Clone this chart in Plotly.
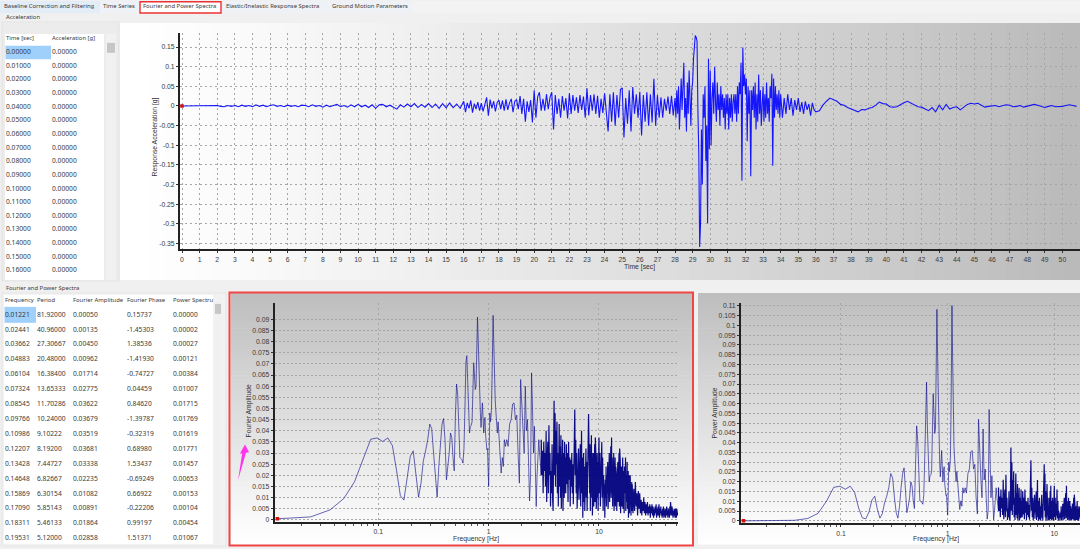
import numpy as np
import plotly.graph_objects as go

W, H = 1080, 549

# ---------- table and tab text ----------
TABS = ["Baseline Correction and Filtering", "Time Series", "Fourier and Power Spectra",
        "Elastic/Inelastic Response Spectra", "Ground Motion Parameters"]
TIME_HEAD = ["Time [sec]", "Acceleration [g]"]
TIME_COL = ["0.00000", "0.01000", "0.02000", "0.03000", "0.04000", "0.05000", "0.06000", "0.07000", "0.08000",
            "0.09000", "0.10000", "0.11000", "0.12000", "0.13000", "0.14000", "0.15000", "0.16000"]
SPEC_HEAD = ["Frequency", "Period", "Fourier Amplitude", "Fourier Phase", "Power Spectru"]
SPEC_FREQ = ["0.01221", "0.02441", "0.03662", "0.04883", "0.06104", "0.07324", "0.08545", "0.09766", "0.10986",
             "0.12207", "0.13428", "0.14648", "0.15869", "0.17090", "0.18311", "0.19531"]
SPEC_PERIOD = ["81.92000", "40.96000", "27.30667", "20.48000", "16.38400", "13.65333", "11.70286", "10.24000",
               "9.10222", "8.19200", "7.44727", "6.82667", "6.30154", "5.85143", "5.46133", "5.12000"]
SPEC_AMP = ["0.00050", "0.00135", "0.00450", "0.00962", "0.01714", "0.02775", "0.03622", "0.03679", "0.03519",
            "0.03681", "0.03338", "0.02235", "0.01082", "0.00891", "0.01864", "0.02858"]
SPEC_PHASE = ["0.15737", "-1.45303", "1.38536", "-1.41930", "-0.74727", "0.04459", "0.84620", "-1.39787",
              "-0.32319", "0.68980", "1.53437", "-0.69249", "0.66922", "-0.22206", "0.99197", "1.51371"]
SPEC_POWER = ["0.00000", "0.00002", "0.00027", "0.00121", "0.00384", "0.01007", "0.01715", "0.01769", "0.01619",
              "0.01771", "0.01457", "0.00653", "0.00153", "0.00104", "0.00454", "0.01067"]

# ---------- acceleration [g], read block by block ----------
ACC_0_2 = [0, 0, 0]
ACC_2_16 = [.001, -.001, -.002, .001, -.001, .001, -.002, .002, -.001, .001, -.002, .003, -.001, .002, -.002, .001,
            .003, -.001, .001, -.002, .002, -.001, .001, -.002, .002, .001, -.002, .003, -.001, .001, -.003, .002,
            -.002, .001, .004, -.002, .001, -.003, .003, -.002, .004, -.002, .002, -.004, .003, -.006, .003, .004,
            -.002, .002, -.004, -.008, .003, -.003, .005, -.002, .006, -.004, .004, -.003, .006, -.004, .005, -.006,
            .006, -.005, .008, -.004, .005, -.006]
ACC_16_20 = [.012, -.016, .008, -.006, .014, -.017, .006, -.008, .01, -.012, .007, -.014, .004, .022, -.025, .016,
             -.006, .012, -.014, .009, .015, -.008, .014, -.012, .017, -.01, .008, .018, -.016, .012, .016, -.008,
             .025, -.02, .018, -.04, .012, -.015, .015, -.042]
ACC_20_24 = [.04, -.03, .024, .035, -.012, .018, -.012, .03, -.008, .022, .035, -.06, .028, -.02, .018, -.03, .025,
             -.012, .02, -.032, .032, -.02, .028, -.012, .022, -.018, .028, -.01, .024, -.03, .045, -.024, .028,
             -.012, .03, -.02, .026, -.03, .018, -.018]
ACC_24_28 = [.032, -.028, -.065, .03, -.04, .035, -.05, .028, -.03, .042, .046, -.08, .02, -.045, .04, -.065, .048,
             -.02, .03, -.03, .036, -.075, .028, -.04, .035, -.05, .03, -.042, .069, -.05, .028, -.03, .022, -.03,
             .018, -.012, .024, -.02, .026, -.024]
ACC_28_34 = [.02, -.03, .04, -.02, .05, -.06, .03, .07, -.01, .05,
             .11, -.03, .02, -.065, .06, -.02, .09, .02, -.05, .04,
             .06, .12, .17, .179, .175, .165, -.01, -.12, -.359, -.3,
             -.06, -.2, .03, -.03, .05, -.14, -.05, -.299, .12, -.11,
             .09, -.1, .02, .06, -.02, .10, .01, -.04, .06, -.01,
             .03, -.05, .05, -.01, .03, -.03, .02, -.06, .03, -.02,
             .03, -.06, .02, -.03, .03, -.04, .01, .03, -.02, .03,
             -.04, .05, -.02, .06, .03, .11, -.19, .149, .05, .08,
             .03, .07, -.09, .05, -.02, .04, -.179, .04, -.01, .05,
             -.03, .06, -.06, .03, -.04, .08, -.02, .04, -.05, .03,
             .05, -.04, .03, -.03, .06, -.02, .02, -.04, .05, .02,
             .082, -.152, .07, -.03, .05, -.01, .03, -.02, .04, -.03]
ACC_34_36 = [.03, -.03, .02, -.02, .03, -.01, .02, -.025, .015, -.01, .02, -.015, .01, -.02, .012, -.01, .005, -.025,
             .008, -.01]
ACC_36_51 = [-.015, -.012, .002, .012, .02, .016, .012, .004, .002, -.004, -.008, -.013, -.015, -.009, -.01, -.006,
             -.004, .002, .01, .006, .005, -.002, -.003, -.002, .004, .008, .012, .007, .004, -.002, -.003, -.007,
             -.012, -.004, -.015, .002, -.01, .004, -.008, -.004, -.002, -.01, -.002, .004, .007, .005, .007, .003,
             -.003, -.001, .0, .001, -.002, 0, .003, .002, -.002, -.001, .001, -.003, -.001, .002, .004, .002, -.002,
             -.004, -.001, .001, -.002, -.002, -.001, .001, .003, .001, -.001]

# ---------- spectrum frequency [Hz] below 3 Hz ----------
F_LOW = [.0122, .0244, .0366, .0488, .0610, .0732, .0855, .0977, .1099, .1221, .1343, .1465, .1587, .1709, .1831,
         .1953, .2075, .2197, .2319, .2441, .2563, .2686, .2808, .2930, .3052, .3174, .3296, .3418, .3540, .3662,
         .3784, .3906, .4028, .4150, .4272, .4395, .4517, .4639, .4761, .4883, .5005, .5127, .5249, .5371, .5493,
         .5615, .5737, .5859, .5981, .6104, .6226, .6348, .6470, .6592, .6714, .6836, .6958, .7080, .7202, .7324,
         .7446, .7568, .7690, .7812, .7935, .8057, .8179, .8301, .8423, .8545, .8667, .8789, .8911, .9033, .9155,
         .9277, .9399, .9521, .9644, .9766, .9888, 1.001, 1.0132, 1.0254, 1.0376, 1.0498, 1.062, 1.0742, 1.0864,
         1.0986, 1.1108, 1.123, 1.1352, 1.1474, 1.1597, 1.2, 1.22, 1.25, 1.28, 1.30, 1.33, 1.36, 1.39, 1.42, 1.46,
         1.5, 1.55, 1.6, 1.65, 1.7, 1.75, 1.8, 1.85, 1.9, 1.95, 2.0, 2.05, 2.1, 2.15, 2.2, 2.25, 2.3, 2.35, 2.4,
         2.45, 2.5, 2.55, 2.6, 2.65, 2.7, 2.75, 2.85, 2.9, 3.0]
FOURIER_LOW = [.0005, .00135, .0045, .00962, .01714, .02775, .03622, .03679, .03519, .03681, .03338, .02235, .01082,
               .00891, .01864, .02858, .031, .021, .0102, .0165, .0265, .031, .036, .043, .041, .03, .018, .0102, .024,
               .036, .043, .0455, .036, .018, .024, .03, .039, .037, .028, .022, .047, .061, .056, .041, .028, .0275,
               .027, .0255, .032, .05, .0705, .0737, .06, .048, .039, .042, .0425, .044, .06, .0705, .065, .0585, .06,
               .0865, .091, .08, .066, .056, .048, .0415, .048, .0525, .046, .039, .044, .046, .038, .032, .0315, .032,
               .024, .015, .032, .048, .044, .046, .05, .063, .08, .0918, .082, .066, .055, .054, .05, .039, .044,
               .036, .027, .021, .028, .024, .036, .033, .036, .033, .043, .045, .052, .0525, .045, .047, .03, .0165,
               .063, .05, .04, .03, .06, .04, .045, .03, .0085, .02, .066, .05, .03, .042, .0275, .006, .02, .036,
               .03, .02]
POWER_LOW = [0, .00002, .00027, .00121, .00384, .01007, .01715, .01769, .01619, .01771, .01457, .00653, .00153, .00104,
             .00454, .01067, .0126, .0058, .0014, .0036, .0092, .0126, .0169, .0242, .022, .0118, .0042, .0014, .0075,
             .0169, .0242, .0271, .0169, .0042, .0075, .0118, .0199, .0179, .0102, .0063, .0289, .0486, .041, .022,
             .0102, .0099, .0095, .0085, .0134, .0327, .065, .071, .047, .0301, .0199, .0231, .0236, .0253, .047, .065,
             .0552, .0447, .047, .0978, .1082, .0836, .0569, .041, .0301, .0225, .0301, .036, .0277, .0199, .0253,
             .0277, .0189, .0134, .013, .0134, .0075, .0029, .0134, .0301, .0253, .0277, .0327, .0519, .0836, .1101,
             .0879, .0569, .0395, .0381, .0327, .02, .0253, .0169, .0095, .0058, .0102, .0075, .0169, .0142, .0169,
             .0142, .0242, .0265, .0353, .036, .0265, .0289, .0118, .0035, .052, .0327, .0209, .0118, .047, .0209,
             .0265, .0118, .0009, .0052, .057, .0327, .0118, .0231, .0099, .0005, .0052, .0169, .0118, .0052]

# ---------- Fourier amplitude above 3 Hz, read band by band ----------
FOURIER_3_5 = [.036, .02, .031, .012, .035, .022, .03, .015, .04, .008, .028, .035, .012, .0425, .02, .03, .006, .022,
               .012, .034, .01, .004, .03, .0535, .02, .048, .015, .04, .025, .044, .012, .03, .006, .025, .043, .015,
               .033, .01, .038, .005, .028, .018, .036, .004, .022, .03, .01, .035, .012, .028]
FOURIER_5_10 = [.012, .034, .016, .03, .008, .035, .018, .028, .006, .027, .015, .03, .012, .025, .007, .024, .038,
                .0495, .02, .036, .012, .03, .005, .022, .014, .032, .009, .026, .018, .034, .006, .02, .04, .012, .028,
                .001, .018, .03, .008, .024, .004, .02, .014, .032, .01, .026, .004, .03, .015, .036, .0475, .02, .043,
                .012, .034, .004, .028, .016, .038, .01, .03, .002, .024, .014, .03, .006, .026, .012, .034, .008, .037,
                .016, .028, .005, .022, .012, .03, .01, .026, .004, .018, .032]
FOURIER_10_20 = [.037, .012, .03, .006, .026, .014, .035, .01, .028, .004, .02, .012, .016, .001, .018, .01, .024,
                 .006, .02, .012, .026, .005, .022, .01, .03, .008, .024, .014, .033, .01, .037, .012, .028, .006,
                 .024, .014, .03, .004, .02, .01, .028, .006, .024, .012, .02, .004, .018, .01, .026, .008, .022, .012,
                 .03, .006, .032, .014, .026, .003, .02, .01, .024, .006, .022, .012, .028, .005, .02, .01, .022, .003,
                 .024, .009, .02, .012, .028, .004, .02, .008, .024, .012, .026, .005, .018, .01, .022, .001, .016,
                 .008, .02, .003, .018, .006, .02, .008, .016, .002, .014, .006, .017, .004]
FOURIER_20_52 = [.016, .003, .014, .004, .017, .006, .012, .002, .013, .005, .012, .003, .009, .002, .008, .004, .01,
                 .003, .008, .002, .007, .003, .008, .002, .006, .003, .007, .001, .006, .003, .007, .002, .006, .001,
                 .005, .002, .006, .003, .007, .001, .005, .002, .006, .002, .007, .001, .005, .003, .006, .002, .004,
                 .001, .005, .002, .006, .001, .004, .002, .005, .001, .004, .002, .006, .002, .004, .001, .005, .002,
                 .004, .001, .006, .002, .008, .003, .007, .002, .006, .002, .005, .001, .004, .002, .005, .002, .004,
                 .001, .005, .002, .004, .001, .005, .002, .004, .002]

# ---------- power amplitude above 3 Hz, read band by band ----------
POWER_3_5 = [.017, .005, .0125, .0019, .016, .0063, .0118, .003, .021, .0008, .0102, .016, .0019, .0236, .0052, .0118,
             .0005, .0063, .0019, .0151, .0013, .0002, .0118, .0375, .0052, .03, .003, .0209, .0082, .0253, .0019,
             .0118, .0005, .0082, .0242, .003, .0142, .0013, .0189, .0003, .0102, .0042, .0169, .0002, .0063, .0118,
             .0013, .016, .0019, .0102]
POWER_5_10 = [.0019, .0151, .0033, .0118, .0008, .016, .0042, .0102, .0005, .0095, .003, .0118, .0019, .0082, .0006,
              .0075, .0189, .031, .0052, .0169, .0019, .0118, .0003, .0063, .0026, .0134, .0011, .0088, .0042, .0151,
              .0005, .0052, .0209, .0019, .0102, .0001, .0042, .0118, .0008, .0075, .0002, .0052, .0026, .0134, .0013,
              .0088, .0002, .0118, .003, .0169, .029, .0052, .0242, .0019, .0151, .0002, .0102, .0033, .0189, .0013,
              .0118, .0001, .0075, .0026, .0118, .0005, .0088, .0019, .0151, .0008, .018, .0033, .0102, .0003, .0063,
              .0019, .0118, .0013, .0088, .0002, .0042, .0134]
POWER_10_18 = [.018, .0019, .0118, .0005, .0088, .0026, .016, .0013, .0102, .0002, .0052, .0019, .0033, .0001, .0042,
               .0013, .0075, .0005, .0052, .0019, .0088, .0003, .0063, .0013, .0118, .0008, .0075, .0026, .0142, .0013,
               .018, .0019, .0102, .0005, .0075, .0026, .0118, .0002, .0052, .0013, .0102, .0005, .0075, .0019, .0052,
               .0002, .0042, .0013, .0088, .0008, .0063, .0019, .0118, .0005, .0134, .0026, .0088, .0001, .0052, .0013,
               .0075, .0005, .0063, .0019, .0102, .0003, .0052, .0013, .0063, .0001, .0075, .0011, .0052, .0019, .007,
               .001, .006, .0012, .0048, .0006]

# ---------- tick labels ----------
TIME_TICKS = list(range(0, 52))
ACC_TICKS = [0.15, 0.1, 0.05, 0, -0.05, -0.1, -0.15, -0.2, -0.25, -0.3, -0.35]
FOURIER_TICKS = [0, .005, .01, .015, .02, .025, .03, .035, .04, .045, .05, .055, .06, .065, .07, .075, .08, .085, .09]
POWER_TICKS = [0, .005, .01, .015, .02, .025, .03, .035, .04, .045, .05, .055, .06, .065, .07, .075, .08, .085, .09,
               .095, .1, .105, .11]
LOG_TICKS = [0.1, 1, 10]
LOG_MINOR = [.02, .03, .04, .05, .06, .07, .08, .09, .2, .3, .4, .5, .6, .7, .8, .9, 2, 3, 4, 5, 6, 7, 8, 9, 20, 30, 40, 50]


def blocks(*parts):
    xs, ys = [], []
    for lo, hi, vals in parts:
        xs.extend(np.linspace(lo, hi, len(vals), endpoint=False).tolist())
        ys.extend(vals)
    return xs, ys


def px(x):
    return x / W


def py(y):
    return 1 - y / H


shapes, notes = [], []


def rect(x0, y0, x1, y1, fill, line=None, lw=1):
    shapes.append(dict(type="rect", xref="paper", yref="paper", x0=px(x0), x1=px(x1), y0=py(y0), y1=py(y1),
                       fillcolor=fill, line=dict(color=line or fill, width=lw if line else 0), layer="below"))


def text(x, y, s, size=6.4, color="#3a3a3a", anchor="left", angle=0, font="Noto Sans"):
    notes.append(dict(xref="paper", yref="paper", x=px(x), y=py(y), text=s, showarrow=False, xanchor=anchor,
                      yanchor="middle", textangle=angle, xshift=-2 if anchor == "left" else 0,
                      font=dict(size=size, color=color, family=font)))


def mix(c0, c1, u):
    v = [round(a + (b - a) * u) for a, b in zip(c0, c1)]
    return f"rgb({v[0]},{v[1]},{v[2]})"


# window background pieces
rect(0, 0, W, 12, "#f3f3f3")
rect(0, 0, 100, 12, "#e3edf7")
rect(100, 0, 139, 12, "#eef2f7")
rect(222, 0, 329, 12, "#eef2f7")
rect(329, 0, 412, 12, "#eef2f7")
rect(140, 0.7, 221, 12, "#ffffff", "#ee3030", 1.4)
rect(2, 21, 119, 281, "#ececec", "#dddddd", 0.6)
rect(5, 33, 104, 280, "#ffffff")
rect(5.5, 45, 51, 58.5, "#9fd0fb")
rect(106, 33, 116, 280, "#f1f1f1")
rect(107, 42, 115, 52, "#c6c6c6")
rect(2, 293, 226, 547, "#f2f2f2", "#dddddd", 0.6)
rect(4, 295, 213, 545, "#ffffff")
rect(4.5, 307, 36, 323, "#9fd0fb")
rect(214, 295, 222, 545, "#f1f1f1")
rect(215, 304, 221, 314, "#c6c6c6")

# gradient panels, drawn as thin strips
N = 64
for i in range(N):
    x0 = 120 + (W - 120) * i / N
    x1 = 120 + (W - 120) * (i + 1) / N
    rect(x0, 22, x1 + 0.5, 280, mix((255, 255, 255), (186, 186, 186), (i / (N - 1)) ** 1.25))
for i in range(N):
    y0 = 293 + (545 - 293) * i / N
    y1 = 293 + (545 - 293) * (i + 1) / N
    shade = mix((190, 190, 190), (255, 255, 255), i / (N - 1))
    rect(231, y0, 692, y1 + 0.5, shade)
    rect(698, y0, W, y1 + 0.5, shade)
shapes.append(dict(type="rect", xref="paper", yref="paper", x0=px(229.5), x1=px(693), y0=py(292.5), y1=py(546.5),
                   line=dict(color="#f04545", width=2), layer="above"))
# pink arrow
pts = [(238, 481), (242.2, 454), (239.8, 454.5), (245, 445), (249, 453), (246, 453.5)]
shapes.append(dict(type="path", xref="paper", yref="paper", fillcolor="#ff33ee", line=dict(width=0), layer="above",
                   path="M " + " L ".join(f"{px(a):.5f},{py(b):.5f}" for a, b in pts) + " Z"))

# tabs, group titles, tables
HEAD = 5.9
DIGIT = 6.7
for s, x in zip(TABS, [3.5, 103, 143, 226, 332]):
    text(x, 5.5, s, HEAD)
text(6, 16.5, "Acceleration", HEAD)
text(6, 288, "Fourier and Power Spectra", HEAD)
for s, x in zip(TIME_HEAD, [6, 52]):
    text(x, 37, s, HEAD)
for i, s in enumerate(TIME_COL):
    y = 50.7 + 13.7 * i
    text(6, y, s, DIGIT)
    text(52, y, "0.00000", DIGIT)
for s, x in zip(SPEC_HEAD, [4.7, 37, 73, 127, 173]):
    text(x, 299.7, s, HEAD)
for i in range(len(SPEC_FREQ)):
    y = 314.3 + 14.96 * i
    for col, x in zip((SPEC_FREQ, SPEC_PERIOD, SPEC_AMP, SPEC_PHASE, SPEC_POWER), (4.7, 37, 73, 127, 173)):
        text(x, y, col[i], DIGIT)

# axis titles
AXF = "Liberation Sans"
text(639, 266.5, "Time [sec]", 6.8, "#333", "center", font=AXF)
text(155, 137, "Response Acceleration [g]", 6.8, "#333", "center", -90, AXF)
text(476, 540, "Frequency [Hz]", 6.8, "#333", "center", font=AXF)
text(249, 412, "Fourier Amplitude", 6.8, "#333", "center", -90, AXF)
text(936, 540, "Frequency [Hz]", 6.8, "#333", "center", font=AXF)
text(715, 414, "Power Amplitude", 6.8, "#333", "center", -90, AXF)

t_acc, v_acc = blocks((0, 2, ACC_0_2), (2, 16, ACC_2_16), (16, 20, ACC_16_20), (20, 24, ACC_20_24),
                      (24, 28, ACC_24_28), (28, 34, ACC_28_34), (34, 36, ACC_34_36), (36, 51, ACC_36_51))
f_f, v_f = blocks((3, 5, FOURIER_3_5), (5, 10, FOURIER_5_10), (10, 20, FOURIER_10_20), (20, 52, FOURIER_20_52))
f_p, v_p = blocks((3, 5, POWER_3_5), (5, 10, POWER_5_10), (10, 18, POWER_10_18))

LIGHT = dict(color="rgba(20,20,140,0.72)", width=0.9)
DARK = dict(color="rgba(0,0,128,0.95)", width=1.2)

fig = go.Figure()
fig.add_trace(go.Scatter(x=t_acc, y=v_acc, mode="lines", line=dict(color="rgba(5,5,255,0.92)", width=1.1),
                         xaxis="x", yaxis="y", showlegend=False))
fig.add_trace(go.Scatter(x=F_LOW, y=FOURIER_LOW, mode="lines", line=LIGHT, xaxis="x2", yaxis="y2", showlegend=False))
fig.add_trace(go.Scatter(x=F_LOW[-1:] + f_f, y=FOURIER_LOW[-1:] + v_f, mode="lines", line=DARK,
                         xaxis="x2", yaxis="y2", showlegend=False))
fig.add_trace(go.Scatter(x=F_LOW, y=POWER_LOW, mode="lines", line=LIGHT, xaxis="x3", yaxis="y3", showlegend=False))
fig.add_trace(go.Scatter(x=F_LOW[-1:] + f_p, y=POWER_LOW[-1:] + v_p, mode="lines", line=DARK,
                         xaxis="x3", yaxis="y3", showlegend=False))
for ax, xv, yv in (("", 0, 0), ("2", F_LOW[0], FOURIER_LOW[0]), ("3", F_LOW[0], POWER_LOW[0])):
    fig.add_trace(go.Scatter(x=[xv], y=[yv], mode="markers", marker=dict(color="#d01010", size=3.5, symbol="square"),
                             xaxis="x" + ax, yaxis="y" + ax, showlegend=False))

tickf = dict(size=6.8, color="#3a3a3a", family=AXF)
common = dict(showline=True, linecolor="#222222", linewidth=2, zeroline=False, ticks="outside", ticklen=2,
              tickwidth=1, tickcolor="#333", tickfont=tickf, gridcolor="#a6a6a6", gridwidth=1, griddash="2px,3px",
              showgrid=True)


def fmt(v):
    return f"{v:g}"


def xlog(dom, rng, anchor):
    return dict(common, type="log", domain=dom, range=rng, anchor=anchor, tickmode="array", tickvals=LOG_TICKS,
                ticktext=[fmt(v) for v in LOG_TICKS],
                minor=dict(tickmode="array", tickvals=LOG_MINOR, ticks="outside", ticklen=1.5, tickcolor="#555",
                           showgrid=False))


fig.update_layout(
    width=W, height=H, autosize=False, margin=dict(l=0, r=0, t=0, b=0),
    paper_bgcolor="#f0f0f0", plot_bgcolor="rgba(0,0,0,0)", showlegend=False,
    shapes=shapes, annotations=notes, hovermode=False,
    xaxis=dict(common, domain=[px(180), 1], range=[-0.114, 51.0], anchor="y", tickmode="array", tickvals=TIME_TICKS,
               ticktext=[str(v) for v in TIME_TICKS]),
    yaxis=dict(common, domain=[py(249.3), py(32)], range=[-0.365, 0.186], anchor="x", tickmode="array",
               tickvals=ACC_TICKS, ticktext=[fmt(v) for v in ACC_TICKS]),
    xaxis2=xlog([px(274.7), px(678)], [-1.938, 1.716], "y2"),
    yaxis2=dict(common, domain=[py(523), py(303)], range=[-0.00098, 0.0974], anchor="x2", tickmode="array",
                tickvals=FOURIER_TICKS, ticktext=[fmt(v) for v in FOURIER_TICKS], griddash="2px,2px"),
    xaxis3=xlog([px(741), 1], [-1.937, 1.241], "y3"),
    yaxis3=dict(common, domain=[py(524.3), py(303)], range=[-0.0013, 0.1115], anchor="x3", tickmode="array",
                tickvals=POWER_TICKS, ticktext=[fmt(v) for v in POWER_TICKS], griddash="2px,2px"),
)

fig.write_html("out.html", config=dict(displayModeBar=False),
               post_script="document.body.style.margin='0';document.body.style.overflow='hidden';")
